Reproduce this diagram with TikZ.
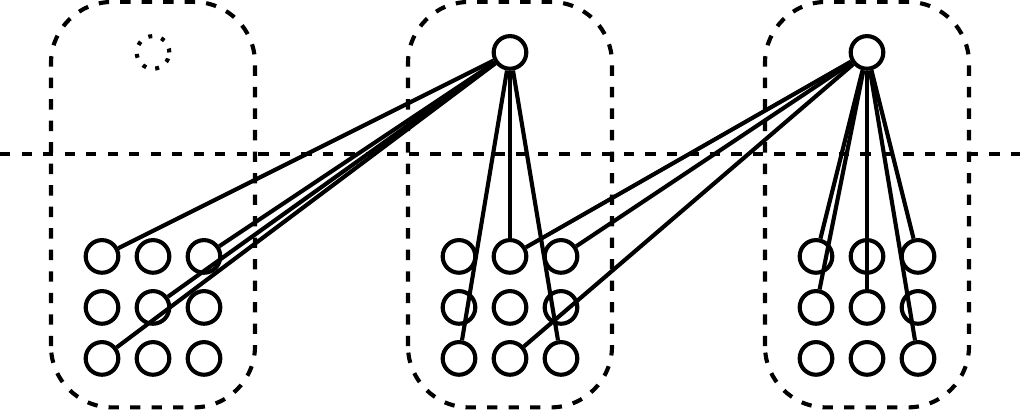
\documentclass[tikz,border=0pt]{standalone}
\usepackage{tikz}
\usetikzlibrary{calc}

\begin{document}
\begin{tikzpicture}[line width=2.3pt,
  unit/.style={circle, draw, minimum size=0.64cm, inner sep=0pt},
  frame/.style={dash pattern=on 5.8pt off 6.2pt, rounded corners=1.2cm}]

\useasboundingbox (0,-0.05) rectangle (20,8.028);

\foreach \g/\x in {a/3,b/10,c/17} {
  \draw [frame] (\x-2,0.04) rectangle (\x+2,7.99);
  \foreach \i in {1,2,3} {\foreach \j in {1,2,3} {\node [unit] (\g\i\j) at (\x+\i-2,\j) {};}}
}

\node [unit, dash pattern=on 2.2pt off 5.15pt] (atop) at (3,7) {};
\node [unit] (btop) at (10,7) {};
\node [unit] (ctop) at (17,7) {};

\coordinate (west) at (0,5);
\coordinate (east) at (20,5);
\draw [dash pattern=on 5.8pt off 6.2pt] (west) -- (east);

\foreach \t in {a13,a33,a22,a11,b11,b23,b31} {\draw (btop) -- (\t);}
\foreach \t in {b23,b33,b21,c13,c12,c22,c33,c31} {\draw (ctop) -- (\t);}

\end{tikzpicture}
\end{document}
